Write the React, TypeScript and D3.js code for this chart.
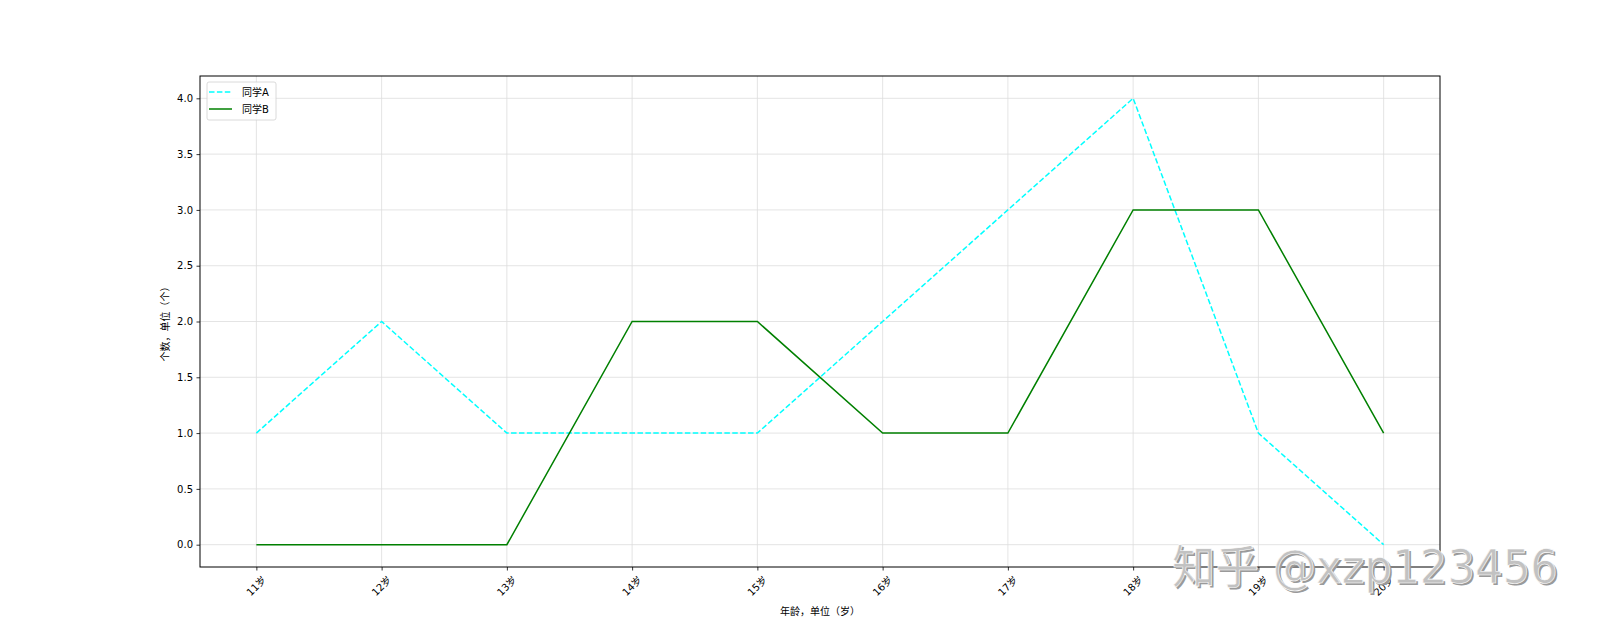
import { useEffect, useRef } from "react";
import * as d3 from "d3";

const ages = ["11岁", "12岁", "13岁", "14岁", "15岁", "16岁", "17岁", "18岁", "19岁", "20岁"];
const studentA = [1, 2, 1, 1, 1, 2, 3, 4, 1, 0];
const studentB = [0, 0, 0, 2, 2, 1, 1, 3, 3, 1];
const yTicks = [0, 0.5, 1, 1.5, 2, 2.5, 3, 3.5, 4];
const seriesNames = ["同学A", "同学B"];

const FONT = "'DejaVu Sans', 'Noto Sans CJK SC', sans-serif";

export default function App() {
  const svgRef = useRef<SVGSVGElement>(null);

  useEffect(() => {
    if (!svgRef.current) return;
    const width = 1600;
    const height = 637;
    const margin = { top: 76, right: 160, bottom: 70, left: 200 };
    const innerWidth = width - margin.left - margin.right;
    const innerHeight = height - margin.top - margin.bottom;

    const svg = d3.select(svgRef.current);
    svg.selectAll("*").remove();
    svg.attr("viewBox", `0 0 ${width} ${height}`);

    svg.append("rect").attr("width", width).attr("height", height).attr("fill", "#fff");

    const g = svg.append("g").attr("transform", `translate(${margin.left},${margin.top})`);

    const idx = d3.range(ages.length);
    const x = d3
      .scaleLinear()
      .domain([-0.45, ages.length - 1 + 0.45])
      .range([0, innerWidth]);
    const y = d3.scaleLinear().domain([-0.2, 4.2]).range([innerHeight, 0]);

    // grid
    g.append("g")
      .selectAll("line")
      .data(idx)
      .join("line")
      .attr("x1", (d) => x(d))
      .attr("x2", (d) => x(d))
      .attr("y1", 0)
      .attr("y2", innerHeight)
      .attr("stroke", "#dddddd")
      .attr("stroke-width", 0.8);
    g.append("g")
      .selectAll("line")
      .data(yTicks)
      .join("line")
      .attr("x1", 0)
      .attr("x2", innerWidth)
      .attr("y1", (d) => y(d))
      .attr("y2", (d) => y(d))
      .attr("stroke", "#dddddd")
      .attr("stroke-width", 0.8);

    // x axis
    const xAxis = g
      .append("g")
      .attr("transform", `translate(0,${innerHeight})`)
      .call(
        d3
          .axisBottom(x)
          .tickValues(idx)
          .tickSize(3.5)
          .tickFormat(() => "")
      );
    xAxis.select("path.domain").remove();
    xAxis.selectAll("line").attr("stroke", "#000").attr("stroke-width", 0.8);

    g.append("g")
      .selectAll("text")
      .data(idx)
      .join("text")
      .attr("transform", (d) => `translate(${x(d)},${innerHeight + 19}) rotate(-45)`)
      .attr("text-anchor", "middle")
      .attr("dominant-baseline", "central")
      .attr("font-family", FONT)
      .attr("font-size", 10)
      .attr("fill", "#000")
      .text((d) => ages[d]);

    // y axis
    const yAxis = g.append("g").call(
      d3
        .axisLeft(y)
        .tickValues(yTicks)
        .tickSize(3.5)
        .tickPadding(3.5)
        .tickFormat(d3.format(".1f"))
    );
    yAxis.select("path.domain").remove();
    yAxis.selectAll("line").attr("stroke", "#000").attr("stroke-width", 0.8);
    yAxis.selectAll("text").attr("font-family", FONT).attr("font-size", 10).attr("fill", "#000");

    // frame
    g.append("rect")
      .attr("width", innerWidth)
      .attr("height", innerHeight)
      .attr("fill", "none")
      .attr("stroke", "#000")
      .attr("stroke-width", 1);

    // lines
    const line = d3
      .line<number>()
      .x((_, i) => x(i))
      .y((d) => y(d));

    g.append("path")
      .datum(studentA)
      .attr("d", line)
      .attr("fill", "none")
      .attr("stroke", "#00ffff")
      .attr("stroke-width", 1.5)
      .attr("stroke-dasharray", "5.5 2.4");

    g.append("path")
      .datum(studentB)
      .attr("d", line)
      .attr("fill", "none")
      .attr("stroke", "#008000")
      .attr("stroke-width", 1.5);

    // axis labels
    svg
      .append("text")
      .attr("x", margin.left + innerWidth / 2)
      .attr("y", 611)
      .attr("text-anchor", "middle")
      .attr("dominant-baseline", "central")
      .attr("font-family", FONT)
      .attr("font-size", 10)
      .text("年龄，单位（岁）");

    svg
      .append("text")
      .attr("transform", `translate(165,${margin.top + innerHeight / 2}) rotate(-90)`)
      .attr("text-anchor", "middle")
      .attr("dominant-baseline", "central")
      .attr("font-family", FONT)
      .attr("font-size", 10)
      .text("个数，单位（个）");

    // legend
    const leg = g.append("g").attr("transform", "translate(7,6)");
    leg
      .append("rect")
      .attr("width", 69)
      .attr("height", 38)
      .attr("rx", 2)
      .attr("fill", "#fff")
      .attr("fill-opacity", 0.8)
      .attr("stroke", "#d0d0d0")
      .attr("stroke-width", 0.8);
    const items = [
      { name: seriesNames[0], color: "#00ffff", dash: "5.5 2.4" },
      { name: seriesNames[1], color: "#008000", dash: null },
    ];
    items.forEach((it, i) => {
      const yy = 10 + i * 17;
      leg
        .append("line")
        .attr("x1", 2)
        .attr("x2", 25)
        .attr("y1", yy)
        .attr("y2", yy)
        .attr("stroke", it.color)
        .attr("stroke-width", 1.5)
        .attr("stroke-dasharray", it.dash);
      leg
        .append("text")
        .attr("x", 35)
        .attr("y", yy)
        .attr("dominant-baseline", "central")
        .attr("font-family", FONT)
        .attr("font-size", 10)
        .text(it.name);
    });

    // watermark
    const wm = "知乎 @xzp123456";
    svg
      .append("text")
      .attr("x", 1174)
      .attr("y", 585)
      .attr("font-family", FONT)
      .attr("font-size", 46)
      .attr("textLength", 386)
      .attr("lengthAdjust", "spacingAndGlyphs")
      .attr("fill", "#9a9a9a")
      .text(wm);
    svg
      .append("text")
      .attr("x", 1172)
      .attr("y", 583)
      .attr("font-family", FONT)
      .attr("font-size", 46)
      .attr("textLength", 386)
      .attr("lengthAdjust", "spacingAndGlyphs")
      .attr("fill", "#c2c2c2")
      .attr("stroke", "#ffffff")
      .attr("stroke-width", 0.6)
      .text(wm);
  }, []);

  return (
    <svg
      ref={svgRef}
      width={1600}
      height={637}
      style={{ position: "absolute", left: 0, top: 0, display: "block" }}
    />
  );
}
